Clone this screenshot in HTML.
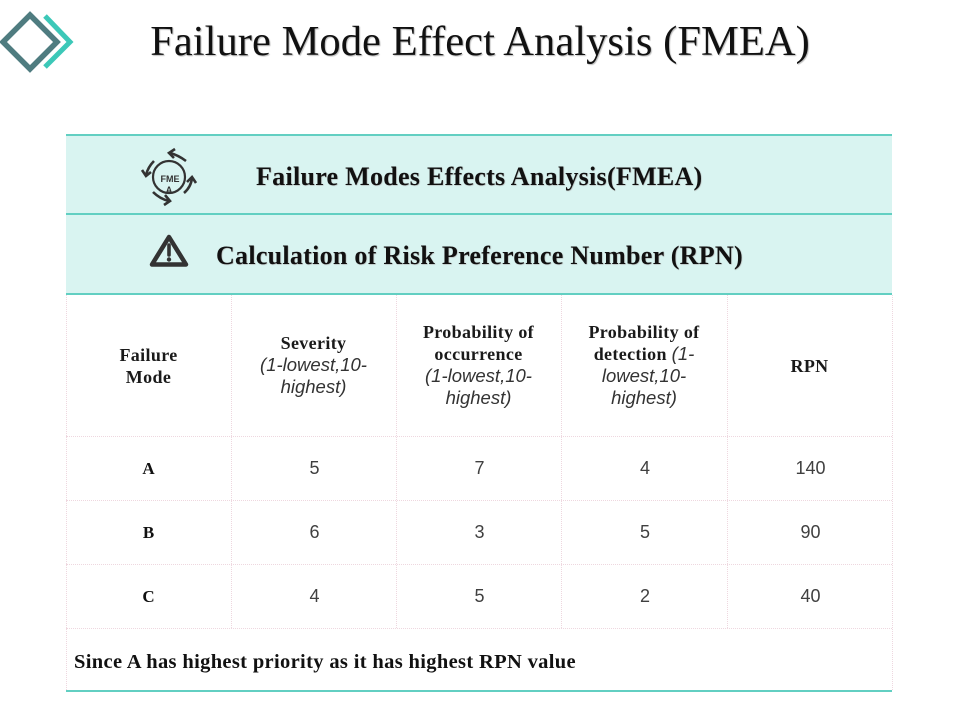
<!DOCTYPE html>
<html lang="en">
<head>
<meta charset="utf-8">
<title>Failure Mode Effect Analysis (FMEA)</title>
<style>
html,body{margin:0;padding:0;background:#fff;}
#page{position:relative;width:960px;height:720px;overflow:hidden;background:#fff;font-family:"Liberation Serif",serif;color:#111;}
.abs{position:absolute;}
.band{position:absolute;left:66px;width:826px;background:#d9f4f1;}
.tl{position:absolute;left:66px;width:826px;height:2px;background:#62cfc2;}
.v{position:absolute;width:0;border-left:1px dotted #eed7df;}
.h{position:absolute;left:66px;width:826px;height:0;border-top:1px dotted #eed7df;}
.c{position:absolute;display:flex;align-items:center;justify-content:center;text-align:center;box-sizing:border-box;padding:0 14px;}
.hd{font:bold 18px/22px "Liberation Serif",serif;letter-spacing:0.35px;color:#1a1a1a;}
.hd i{font:italic 18.5px/1 "Liberation Sans",sans-serif;letter-spacing:0;color:#333;}
.rl{font:bold 17px/22px "Liberation Serif",serif;color:#111;}
.n{font:18px/22px "Liberation Sans",sans-serif;color:#404040;}
.bt{position:absolute;white-space:nowrap;font-weight:bold;color:#111;}
</style>
</head>
<body>
<div id="page">
  <svg class="abs" style="left:0;top:10px" width="76" height="64" viewBox="0 0 76 64">
    <path d="M30 5 L57 32 L30 59 L3 32 Z" fill="none" stroke="#4f7c80" stroke-width="5.5"/>
    <path d="M45 6 L70 32 L45 57" fill="none" stroke="#3cc8b8" stroke-width="5"/>
  </svg>
  <div class="abs" style="left:0;top:16px;width:960px;text-align:center;font-size:42.5px;letter-spacing:0.05px;line-height:52px;white-space:nowrap;text-shadow:1px 1px 1px #bbb;">Failure Mode Effect Analysis (FMEA)</div>

  <div class="band" style="top:134px;height:160px"></div>
  <div class="tl" style="top:134px"></div>
  <div class="tl" style="top:213px"></div>
  <div class="tl" style="top:293px"></div>
  <div class="tl" style="top:690px"></div>

  <svg class="abs" style="left:140px;top:146px" width="60" height="62" viewBox="0 0 60 62">
    <circle cx="29" cy="31" r="16" fill="none" stroke="#333" stroke-width="2.2"/>
    <g fill="none" stroke="#333" stroke-width="2.6">
      <path d="M46 15 Q38 9 30 7"/><path d="M35 3 L29 7 L34 12"/>
      <path d="M14 15 Q8 21 6 29"/><path d="M2 24 L6 30 L11 26"/>
      <path d="M13 46 Q20 53 29 55"/><path d="M25 49 L30 55 L24 59"/>
      <path d="M44 47 Q51 41 52 32"/><path d="M47 36 L52 31 L56 37"/>
    </g>
    <text x="30" y="36" text-anchor="middle" font-family="Liberation Sans, sans-serif" font-size="9" font-weight="bold" fill="#333">FME</text>
    <text x="29" y="47" text-anchor="middle" font-family="Liberation Sans, sans-serif" font-size="9" font-weight="bold" fill="#333">A</text>
  </svg>
  <div class="bt" style="left:256px;top:161px;font-size:26px;letter-spacing:0.28px;line-height:32px;text-shadow:0.5px 0.5px 1px #aaa">Failure Modes Effects Analysis(FMEA)</div>

  <svg class="abs" style="left:148px;top:232px" width="44" height="38" viewBox="0 0 44 38">
    <path d="M21 5 L38 32.5 L4 32.5 Z" fill="none" stroke="#333" stroke-width="4.5" stroke-linejoin="round"/>
    <path d="M21 13 L21 23" stroke="#333" stroke-width="3.6" stroke-linecap="round"/>
    <circle cx="21" cy="27.5" r="2.2" fill="#333"/>
  </svg>
  <div class="bt" style="left:216px;top:240px;font-size:26px;letter-spacing:0.28px;line-height:32px;text-shadow:0.5px 0.5px 1px #aaa">Calculation of Risk Preference Number (RPN)</div>

  <div class="v" style="left:66px;top:295px;height:395px"></div>
  <div class="v" style="left:231px;top:295px;height:333px"></div>
  <div class="v" style="left:396px;top:295px;height:333px"></div>
  <div class="v" style="left:561px;top:295px;height:333px"></div>
  <div class="v" style="left:727px;top:295px;height:333px"></div>
  <div class="v" style="left:892px;top:295px;height:395px"></div>
  <div class="h" style="top:436px"></div>
  <div class="h" style="top:500px"></div>
  <div class="h" style="top:564px"></div>
  <div class="h" style="top:628px"></div>

  <div class="c hd" style="left:66px;top:295px;width:165px;height:141px"><span style="width:70px">Failure Mode</span></div>
  <div class="c hd" style="left:231px;top:294px;width:165px;height:141px"><span>Severity<br><i>(1-lowest,10-<br>highest)</i></span></div>
  <div class="c hd" style="left:396px;top:294px;width:165px;height:141px"><span>Probability of<br>occurrence<br><i>(1-lowest,10-<br>highest)</i></span></div>
  <div class="c hd" style="left:561px;top:294px;width:166px;height:141px"><span>Probability of<br>detection <i>(1-<br>lowest,10-<br>highest)</i></span></div>
  <div class="c hd" style="left:727px;top:295px;width:165px;height:141px">RPN</div>

  <div class="c rl" style="left:66px;top:437px;width:165px;height:64px">A</div>
  <div class="c n" style="left:232px;top:436px;width:165px;height:63px">5</div>
  <div class="c n" style="left:397px;top:436px;width:165px;height:63px">7</div>
  <div class="c n" style="left:562px;top:436px;width:166px;height:63px">4</div>
  <div class="c n" style="left:728px;top:436px;width:165px;height:63px">140</div>

  <div class="c rl" style="left:66px;top:501px;width:165px;height:64px">B</div>
  <div class="c n" style="left:232px;top:500px;width:165px;height:63px">6</div>
  <div class="c n" style="left:397px;top:500px;width:165px;height:63px">3</div>
  <div class="c n" style="left:562px;top:500px;width:166px;height:63px">5</div>
  <div class="c n" style="left:728px;top:500px;width:165px;height:63px">90</div>

  <div class="c rl" style="left:66px;top:565px;width:165px;height:64px">C</div>
  <div class="c n" style="left:232px;top:564px;width:165px;height:63px">4</div>
  <div class="c n" style="left:397px;top:564px;width:165px;height:63px">5</div>
  <div class="c n" style="left:562px;top:564px;width:166px;height:63px">2</div>
  <div class="c n" style="left:728px;top:564px;width:165px;height:63px">40</div>

  <div class="bt" style="left:74px;top:650px;font-size:20.5px;letter-spacing:0.34px;line-height:24px">Since A has highest priority as it has highest RPN value</div>
</div>
</body>
</html>
